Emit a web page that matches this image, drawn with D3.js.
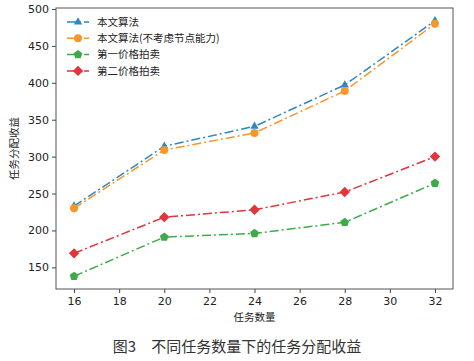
<!DOCTYPE html>
<html>
<head>
<meta charset="utf-8">
<script src="https://cdn.jsdelivr.net/npm/d3@7"></script>
<style>
  body { margin: 0; background: #fff; }
  svg { display: block; }
</style>
</head>
<body>
<script>
// --- data ---
const taskCounts = [16, 20, 24, 28, 32];
const seriesNames = ["本文算法", "本文算法(不考虑节点能力)", "第一价格拍卖", "第二价格拍卖"];
const oursValues = [233, 314, 341, 397, 484];
const oursNoNodeValues = [230, 309, 332, 389, 480];
const firstPriceValues = [138, 191, 196, 211, 264];
const secondPriceValues = [169, 218, 228, 252, 300];
const xTicks = [16, 18, 20, 22, 24, 26, 28, 30, 32];
const yTicks = [150, 200, 250, 300, 350, 400, 450, 500];

const W = 474, H = 361;
const plot = { left: 56, right: 453, top: 8, bottom: 289 };
const colors = ["#2f87c0", "#f7962a", "#3dab4a", "#e0353b"];
const markers = ["triangle", "circle", "pentagon", "diamond"];
const cjk = "'Noto Sans CJK SC', 'Noto Sans', sans-serif";

const series = [oursValues, oursNoNodeValues, firstPriceValues, secondPriceValues]
  .map((vals, i) => ({ name: seriesNames[i], color: colors[i], marker: markers[i],
    points: vals.map((v, j) => ({ x: taskCounts[j], y: v })) }));

const svg = d3.select("body").append("svg").attr("width", W).attr("height", H);

const x = d3.scaleLinear().domain([15.2, 32.8]).range([plot.left, plot.right]);
const y = d3.scaleLinear().domain([120.7, 501.3]).range([plot.bottom, plot.top]);

// regular polygon symbol (matplotlib style markers), r = radius in px
function polygon(n, r, rot) {
  const pts = d3.range(n).map(i => {
    const a = rot + i * 2 * Math.PI / n;
    return [r * Math.cos(a), r * Math.sin(a)];
  });
  return "M" + pts.map(p => p[0].toFixed(2) + "," + p[1].toFixed(2)).join("L") + "Z";
}

function symbolPath(m) {
  if (m === "triangle") return polygon(3, 4.8, -Math.PI / 2);
  if (m === "pentagon") return polygon(5, 4.6, -Math.PI / 2);
  if (m === "diamond") return polygon(4, 5.2, -Math.PI / 2);
  return d3.symbol(d3.symbolCircle, 50)();
}

// axes
const xAxis = svg.append("g").attr("transform", `translate(0,${plot.bottom})`)
  .call(d3.axisBottom(x).tickValues(xTicks).tickSize(4).tickPadding(4));
const yAxis = svg.append("g").attr("transform", `translate(${plot.left},0)`)
  .call(d3.axisLeft(y).tickValues(yTicks).tickSize(4).tickPadding(3));
[xAxis, yAxis].forEach(a => {
  a.select(".domain").remove();
  a.selectAll("line").attr("stroke", "#444");
  a.selectAll("text").attr("fill", "#222").style("font-family", "'DejaVu Sans', sans-serif").style("font-size", "11px");
});

// frame
svg.append("rect")
  .attr("x", plot.left).attr("y", plot.top)
  .attr("width", plot.right - plot.left).attr("height", plot.bottom - plot.top)
  .attr("fill", "none").attr("stroke", "#555").attr("stroke-width", 1);

// lines and markers
const line = d3.line().x(d => x(d.x)).y(d => y(d.y));
series.forEach(s => {
  svg.append("path").datum(s.points)
    .attr("d", line)
    .attr("fill", "none")
    .attr("stroke", s.color)
    .attr("stroke-width", 1.5)
    .attr("stroke-dasharray", "9,3,2,3");
  svg.append("g").selectAll("path").data(s.points).enter().append("path")
    .attr("transform", d => `translate(${x(d.x)},${y(d.y)})`)
    .attr("d", symbolPath(s.marker))
    .attr("fill", s.color);
});

// legend
const legend = svg.append("g").attr("transform", "translate(67,22)");
series.forEach((s, i) => {
  const g = legend.append("g").attr("transform", `translate(0,${i * 16.3})`);
  g.append("line").attr("x1", 0).attr("x2", 22).attr("y1", 0).attr("y2", 0)
    .attr("stroke", s.color).attr("stroke-width", 1.5).attr("stroke-dasharray", "9,3,2,3");
  g.append("path").attr("transform", "translate(11,0)").attr("d", symbolPath(s.marker)).attr("fill", s.color);
  g.append("text").attr("x", 30).attr("y", 0).attr("dy", "0.35em")
    .style("font-family", cjk).style("font-size", "10.5px").attr("fill", "#222")
    .text(s.name);
});

// axis titles
svg.append("text").attr("x", (plot.left + plot.right) / 2).attr("y", 321)
  .attr("text-anchor", "middle").style("font-family", cjk).style("font-size", "10.5px").attr("fill", "#222")
  .text("任务数量");
svg.append("text").attr("transform", `translate(18,${(plot.top + plot.bottom) / 2}) rotate(-90)`)
  .attr("text-anchor", "middle").style("font-family", cjk).style("font-size", "10.5px").attr("fill", "#222")
  .text("任务分配收益");

// caption
svg.append("text").attr("x", 237).attr("y", 352)
  .attr("text-anchor", "middle").style("font-family", cjk).style("font-size", "15px")
  .attr("fill", "#333")
  .text("图3　不同任务数量下的任务分配收益");
</script>
</body>
</html>
